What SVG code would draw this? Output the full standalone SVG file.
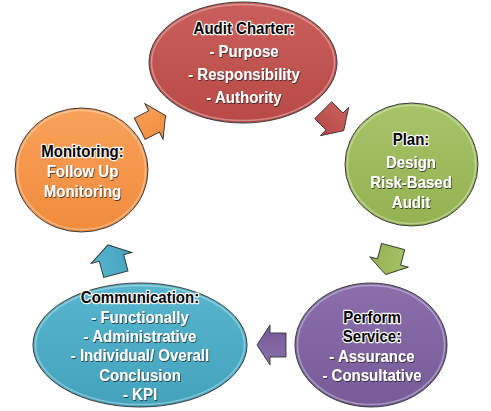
<svg xmlns="http://www.w3.org/2000/svg" xmlns:xlink="http://www.w3.org/1999/xlink" width="491" height="411" viewBox="0 0 491 411">
<defs>
<linearGradient id="gRed" x1="0" y1="0" x2="0" y2="1"><stop offset="0" stop-color="#c9605d"/><stop offset="1" stop-color="#b84946"/></linearGradient>
<linearGradient id="gGreen" x1="0" y1="0" x2="0" y2="1"><stop offset="0" stop-color="#a7c469"/><stop offset="1" stop-color="#93b251"/></linearGradient>
<linearGradient id="gPurple" x1="0" y1="0" x2="0" y2="1"><stop offset="0" stop-color="#8a6fac"/><stop offset="1" stop-color="#775b99"/></linearGradient>
<linearGradient id="gTeal" x1="0" y1="0" x2="0" y2="1"><stop offset="0" stop-color="#57b6ce"/><stop offset="1" stop-color="#43a3bd"/></linearGradient>
<linearGradient id="gOrange" x1="0" y1="0" x2="0" y2="1"><stop offset="0" stop-color="#f9a15a"/><stop offset="1" stop-color="#f08c3d"/></linearGradient>
<filter id="sh" x="-10%" y="-20%" width="120%" height="140%"><feDropShadow dx="0.8" dy="1" stdDeviation="0.6" flood-color="#222" flood-opacity="0.8"/></filter>
<path id="arrow" d="M13,0 L0,-20 L0,-12 L-16,-12 L-16,12 L0,12 L0,20 Z"/>
</defs>
<style>
.node{stroke:#3c3c3c;stroke-width:1}
.rim{fill:none;stroke:#ffffff;stroke-opacity:0.35;stroke-width:1.5}
.t{font-family:"Liberation Sans",Arial,sans-serif;font-weight:bold;font-size:16.5px;text-anchor:middle;transform-box:fill-box;transform-origin:center;transform:scaleX(0.91)}
.title{fill:#000;stroke:#fff;stroke-width:2.4;stroke-linejoin:round;paint-order:stroke}
.body{fill:#fff;filter:url(#sh)}
.arr{stroke:#333;stroke-width:0.9;stroke-linejoin:miter}
</style>

<g id="connectors">
<use xlink:href="#arrow" href="#arrow" class="arr" fill="url(#gOrange)" transform="translate(154,121.5) rotate(-27)"/>
<use xlink:href="#arrow" href="#arrow" class="arr" fill="url(#gRed)" transform="translate(334.5,121.5) rotate(45)"/>
<use xlink:href="#arrow" href="#arrow" class="arr" fill="url(#gGreen)" transform="translate(389,262) rotate(105)"/>
<use xlink:href="#arrow" href="#arrow" class="arr" fill="url(#gPurple)" transform="translate(270,345) rotate(180)"/>
<use xlink:href="#arrow" href="#arrow" class="arr" fill="url(#gTeal)" transform="translate(111.5,258) rotate(-105) scale(1.05)"/>
</g>

<g id="audit-charter">
<ellipse class="node" cx="243" cy="62.5" rx="94" ry="60.5" fill="url(#gRed)"/>
<ellipse class="rim" cx="243" cy="62.5" rx="91.5" ry="58"/>
<text class="t title" x="244" y="34.5">Audit Charter:</text>
<text class="t body" x="244" y="57.5">- Purpose</text>
<text class="t body" x="244" y="80.5">- Responsibility</text>
<text class="t body" x="244" y="103.5">- Authority</text>
</g>

<g id="plan">
<ellipse class="node" cx="411.5" cy="164.5" rx="66.5" ry="61.5" fill="url(#gGreen)"/>
<ellipse class="rim" cx="411.5" cy="164.5" rx="64" ry="59"/>
<text class="t title" x="411" y="145">Plan:</text>
<text class="t body" x="411" y="168">Design</text>
<text class="t body" x="411" y="188.5">Risk-Based</text>
<text class="t body" x="411" y="208">Audit</text>
</g>

<g id="perform-service">
<ellipse class="node" cx="371" cy="345" rx="76" ry="62" fill="url(#gPurple)"/>
<ellipse class="rim" cx="371" cy="345" rx="73.5" ry="59.5"/>
<text class="t title" x="372" y="323">Perform</text>
<text class="t title" x="372" y="342">Service:</text>
<text class="t body" x="372" y="362">- Assurance</text>
<text class="t body" x="372" y="381">- Consultative</text>
</g>

<g id="communication">
<ellipse class="node" cx="140" cy="345" rx="107" ry="62" fill="url(#gTeal)"/>
<ellipse class="rim" cx="140" cy="345" rx="104.5" ry="59.5"/>
<text class="t title" x="140" y="303.5">Communication:</text>
<text class="t body" x="140" y="323">- Functionally</text>
<text class="t body" x="140" y="342">- Administrative</text>
<text class="t body" x="140" y="361.5">- Individual/ Overall</text>
<text class="t body" x="140" y="381">Conclusion</text>
<text class="t body" x="140" y="400">- KPI</text>
</g>

<g id="monitoring">
<ellipse class="node" cx="81.5" cy="170" rx="66.5" ry="62" fill="url(#gOrange)"/>
<ellipse class="rim" cx="81.5" cy="170" rx="64" ry="59.5"/>
<text class="t title" x="82.5" y="157">Monitoring:</text>
<text class="t body" x="82.5" y="177">Follow Up</text>
<text class="t body" x="82.5" y="197">Monitoring</text>
</g>
</svg>
